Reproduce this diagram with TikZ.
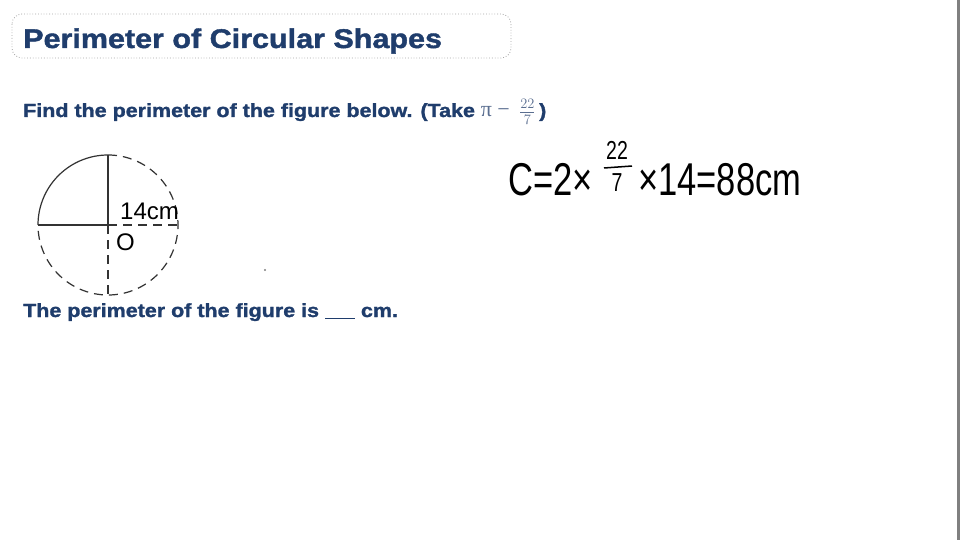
\documentclass[tikz,border=0pt]{standalone}
\usepackage{fontspec}
\setmainfont{Liberation Sans}
\newfontfamily\serifpi{Liberation Serif}
\newfontfamily\blackfont[FakeStretch=1.13,FakeBold=1.5]{Liberation Sans}
\newfontfamily\handfont[FakeStretch=0.75]{Liberation Sans}
\definecolor{titleblue}{HTML}{1F3D6C}
\definecolor{pigray}{HTML}{5A6E90}
\begin{document}
\begin{tikzpicture}[x=1pt,y=-1pt,
  boldtxt/.style={text=titleblue,font=\blackfont\bfseries\fontsize{19}{22}\selectfont,anchor=base west,inner sep=0pt},
  solidline/.style={line width=1.2pt,black!80},
  dashline/.style={line width=1.2pt,black!80,dash pattern=on 9pt off 6pt},
  lbl/.style={font=\fontsize{24}{26}\selectfont,anchor=base west,inner sep=0pt},
  hand/.style={font=\handfont\fontsize{46}{50}\selectfont,anchor=base west,inner sep=0pt},
  handsmall/.style={font=\handfont\fontsize{26}{28}\selectfont,anchor=base,inner sep=0pt}]
\useasboundingbox (0,0) rectangle (960,540);
\fill[white] (0,0) rectangle (960,540);
\fill[gray] (957,0) rectangle (960,540);
% title
\draw[gray!70,dotted,line width=0.8pt,rounded corners=10pt] (12,14) rectangle (511,58);
\node[anchor=base west,inner sep=0pt,text=titleblue,font=\blackfont\bfseries\fontsize{27}{30}\selectfont] (title) at (23,48) {Perimeter of Circular Shapes};
% question
\node[boldtxt] (q) at (23,117) {Find the perimeter of the figure below. (Take {\mdseries\serifpi\color{pigray}\fontsize{22}{24}\selectfont π − \,$\frac{22}{7}$\,})};
% figure
\coordinate (O) at (108,225);
\coordinate (T) at (108,155);
\coordinate (L) at (38,225);
\coordinate (R) at (178,225);
\coordinate (B) at (108,295);
\draw[solidline] (T) arc[start angle=90,end angle=180,radius=70pt];
\draw[dashline] (T) arc[start angle=90,end angle=-180,radius=70pt];
\draw[solidline] (L) -- (O) -- (T);
\draw[dashline] (O) -- (R);
\draw[dashline] (O) -- (B);
\node[lbl] (r) at (120,219) {14cm};
\node[lbl] (o) at (116,250) {O};
\fill[gray] (265,270) circle (1.2pt);
% answer line
\node[boldtxt] (a) at (23,317) {The perimeter of the figure is \underline{\hspace{30pt}} cm.};
% handwriting
\node[hand] (c1) at (508,196) {C=2×};
\node[handsmall] (num) at (617,160) {22};
\coordinate (fl) at (604,168);
\coordinate (fr) at (632,166);
\draw[line width=1.5pt] (fl) -- (fr);
\node[handsmall] (den) at (617,191) {7};
\node[hand] (c2) at (638,196) {×14=88cm};
\end{tikzpicture}
\end{document}
